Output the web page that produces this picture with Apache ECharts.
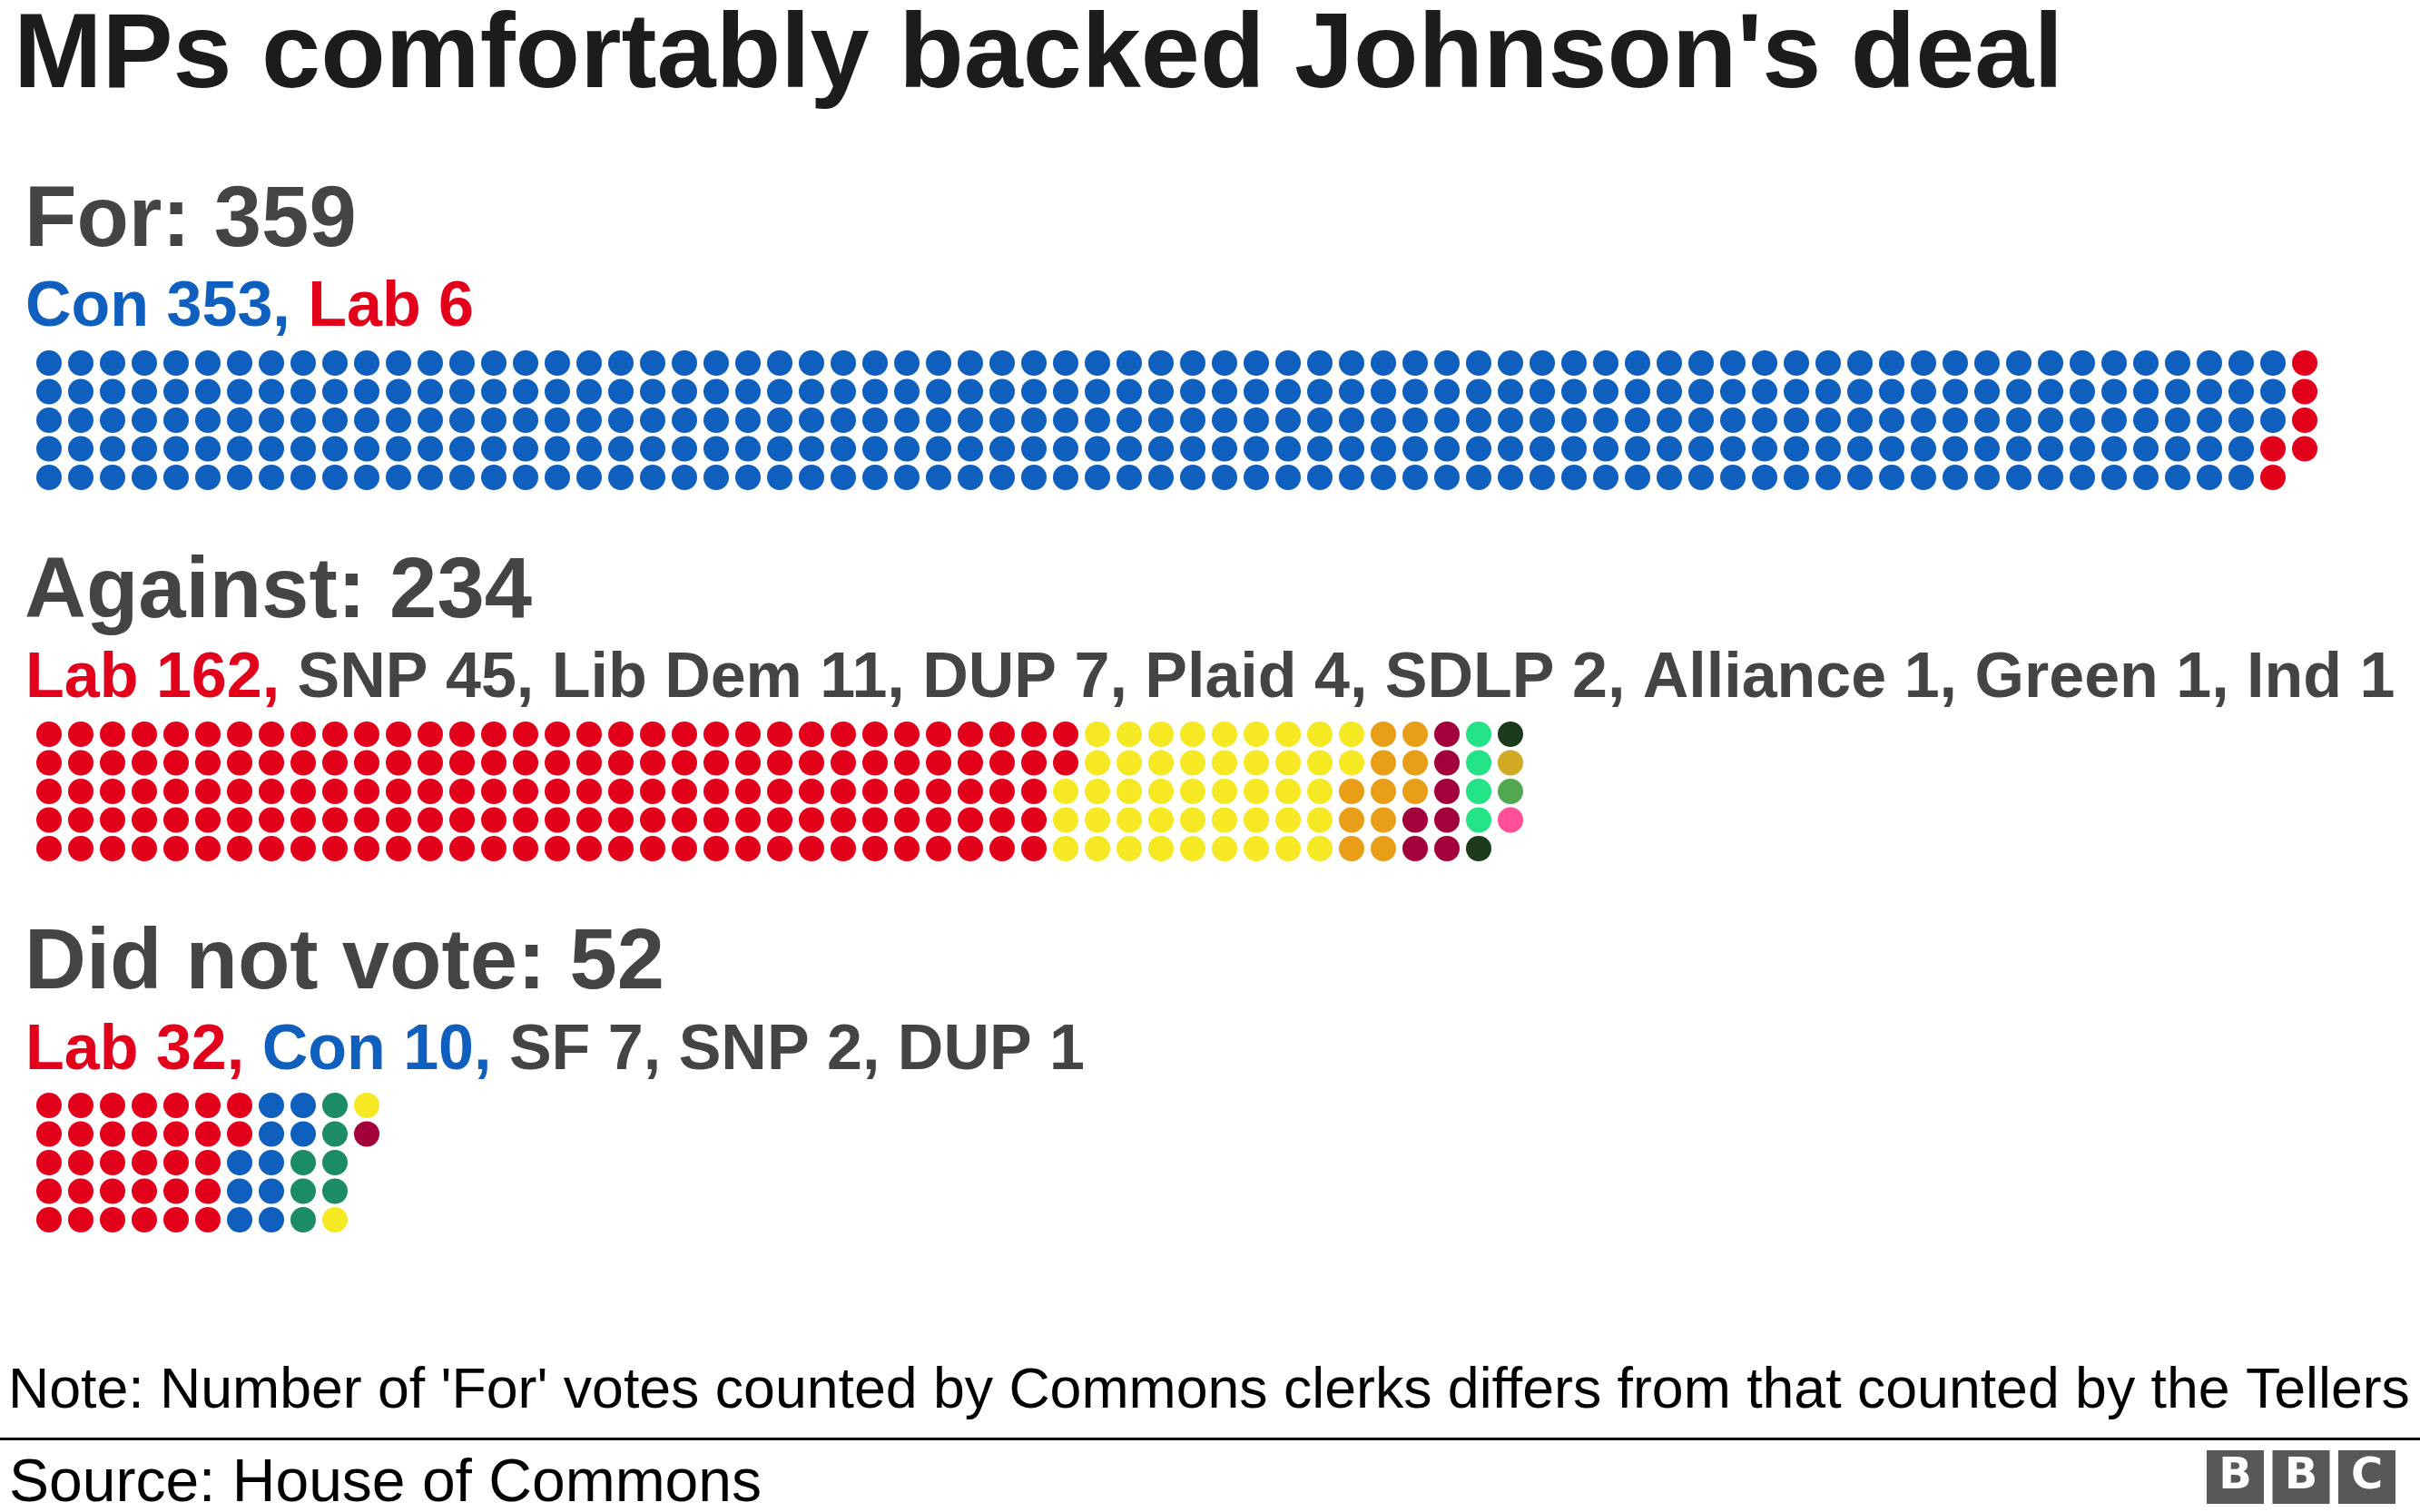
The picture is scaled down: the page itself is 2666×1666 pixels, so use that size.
<!DOCTYPE html>
<html>
<head>
<meta charset="utf-8">
<script src="https://cdn.jsdelivr.net/npm/echarts@6/dist/echarts.min.js"></script>
<style>
  html, body { margin: 0; padding: 0; background: #fff; }
  #chart { width: 2666px; height: 1666px; }
</style>
</head>
<body>
<div id="chart"></div>
<script>
// seat counts per party, in the order they are drawn
const forParties = ["Con", "Lab"];
const forCounts = [353, 6];
const againstParties = ["Lab", "SNP", "Lib Dem", "DUP", "Plaid", "SDLP", "Alliance", "Green", "Ind"];
const againstCounts = [162, 45, 11, 7, 4, 2, 1, 1, 1];
const dnvParties = ["Lab", "Con", "SF", "SNP", "DUP"];
const dnvCounts = [32, 10, 7, 2, 1];

const partyColors = {
  Con: "#0f5fbe",
  Lab: "#e2001a",
  SNP: "#f5e924",
  "Lib Dem": "#e99e17",
  DUP: "#a3003b",
  Plaid: "#24e387",
  SDLP: "#1b3b1b",
  Alliance: "#d0a822",
  Green: "#52a84e",
  Ind: "#ff4f97",
  SF: "#1b8c64",
};

const ROWS = 5;
const FONT = "'Liberation Sans', Arial, Helvetica, sans-serif";
const GREY = "#444444";

const chart = echarts.init(document.getElementById("chart"));

// one grid per block of dots
const blocks = [
  { parties: forParties, counts: forCounts, top: 400 },
  { parties: againstParties, counts: againstCounts, top: 809 },
  { parties: dnvParties, counts: dnvCounts, top: 1218 },
];

const colW = 35;
const rowH = 31.5;
const firstX = 54;

const grids = [];
const xAxes = [];
const yAxes = [];
const series = [];

blocks.forEach((b, gi) => {
  grids.push({
    left: firstX - colW / 2,
    width: colW * 72,
    top: b.top - rowH / 2,
    height: rowH * ROWS,
  });
  xAxes.push({ gridIndex: gi, type: "value", min: -0.5, max: 71.5, show: false });
  yAxes.push({ gridIndex: gi, type: "value", min: -0.5, max: 4.5, inverse: true, show: false });

  // fill column by column, top to bottom
  let seat = 0;
  b.parties.forEach((p, pi) => {
    const pts = [];
    for (let k = 0; k < b.counts[pi]; k++) {
      pts.push([Math.floor(seat / ROWS), seat % ROWS]);
      seat++;
    }
    series.push({
      type: "scatter",
      name: p,
      xAxisIndex: gi,
      yAxisIndex: gi,
      data: pts,
      symbol: "circle",
      symbolSize: 28,
      itemStyle: { color: partyColors[p], opacity: 1 },
      silent: true,
      clip: false,
    });
  });
});

function txt(x, y, text, size, weight, color, rich) {
  return {
    type: "text",
    x: x,
    y: y,
    style: {
      text: text,
      font: weight + " " + size + "px " + FONT,
      fill: color,
      verticalAlign: "top",
      rich: rich,
    },
  };
}

const subRich = {
  r: { fill: partyColors.Lab, font: "bold 70px " + FONT },
  b: { fill: partyColors.Con, font: "bold 70px " + FONT },
  g: { fill: GREY, font: "bold 70px " + FONT },
};

const bbc = ["B", "B", "C"];
const logo = [];
bbc.forEach((ch, i) => {
  const x = 2431 + i * 72.5;
  logo.push({ type: "rect", shape: { x: x, y: 1598, width: 63, height: 59 }, style: { fill: "#585858" } });
  logo.push({
    type: "text",
    x: x + 31.5,
    y: 1628,
    style: {
      text: ch,
      font: "bold 48px 'DejaVu Sans', sans-serif",
      fill: "#fff",
      align: "center",
      verticalAlign: "middle",
    },
  });
});

const option = {
  animation: false,
  backgroundColor: "#fff",
  grid: grids,
  xAxis: xAxes,
  yAxis: yAxes,
  series: series,
  graphic: [
    txt(15, 5, "MPs comfortably backed Johnson's deal", 117, "bold", "#1c1c1c"),
    txt(27, 198, "For: 359", 94, "bold", GREY),
    txt(28, 305, "{b|Con 353,} {r|Lab 6}", 70, "bold", GREY, subRich),
    txt(27, 607, "Against: 234", 94, "bold", GREY),
    txt(28, 714, "{r|Lab 162,} {g|SNP 45, Lib Dem 11, DUP 7, Plaid 4, SDLP 2, Alliance 1, Green 1, Ind 1}", 70, "bold", GREY, subRich),
    txt(27, 1016, "Did not vote: 52", 94, "bold", GREY),
    txt(28, 1124, "{r|Lab 32,} {b|Con 10,} {g|SF 7, SNP 2, DUP 1}", 70, "bold", GREY, subRich),
    txt(9, 1502, "Note: Number of 'For' votes counted by Commons clerks differs from that counted by the Tellers", 62.6, "normal", "#000"),
    { type: "rect", shape: { x: 0, y: 1584, width: 2666, height: 3 }, style: { fill: "#000" } },
    txt(10, 1603, "Source: House of Commons", 66, "normal", "#000"),
  ].concat(logo),
};

chart.setOption(option);
window.addEventListener("resize", () => chart.resize());
</script>
</body>
</html>
